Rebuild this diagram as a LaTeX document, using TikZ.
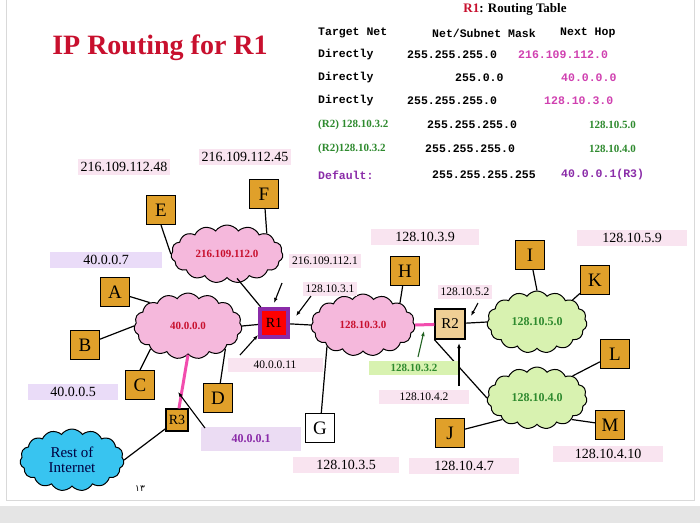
\documentclass[tikz,border=0pt]{standalone}
\usepackage{fontspec}
\setmainfont{Liberation Serif}
\newfontfamily\mono{Liberation Mono}
\newfontfamily\arab{DejaVu Sans}
\usetikzlibrary{shapes.symbols,arrows.meta}
\definecolor{hostc}{HTML}{E0A02A}
\definecolor{pinkc}{HTML}{F5B8DC}
\definecolor{greenc}{HTML}{D8F2B0}
\definecolor{labc}{HTML}{F9E4F0}
\definecolor{lavc}{HTML}{EADCF8}
\definecolor{netred}{HTML}{C8102E}
\definecolor{netgreen}{HTML}{2E8A2E}
\definecolor{mag}{HTML}{D040B0}
\definecolor{purp}{HTML}{8A2BA8}
\definecolor{cyanc}{HTML}{38C4F0}
\begin{document}
\begin{tikzpicture}[x=1pt,y=-1pt,
 host/.style={draw,line width=1.2pt,fill=hostc,minimum size=29pt,inner sep=0pt,font=\fontsize{19}{19}\selectfont},
 cl/.style={cloud,cloud puffs=15,cloud puff arc=110,draw,line width=1pt,aspect=1.8,inner sep=0pt},
 lab/.style={fill=labc,font=\fontsize{14}{14}\selectfont,inner sep=3pt},
 sl/.style={fill=labc,font=\fontsize{11.5}{12}\selectfont,inner sep=3pt},
 ln/.style={line width=1.2pt},
 ar/.style={-{Latex[length=5pt]},line width=1.1pt},
 tb/.style={font=\mono\bfseries\fontsize{11.5}{11.5}\selectfont,anchor=west,inner sep=0pt},
 tg/.style={font=\bfseries\fontsize{11}{11}\selectfont,text=netgreen,anchor=west,inner sep=0pt}]
\useasboundingbox (0,0) rectangle (700,523);
\fill[white] (0,0) rectangle (700,523);
\fill[black!10] (0,506) rectangle (700,523);
\draw[black!15] (6,0) -- (6,500) -- (694,500) -- (694,0);
% title
\node[text=netred,font=\bfseries\fontsize{28}{28}\selectfont] (title) at (160,48) {IP Routing for R1};
% table
\node[font=\bfseries\fontsize{13}{13}\selectfont] (tt) at (515,9) {\textcolor{netred}{R1}: Routing Table};
\node[tb] (h1) at (318,33) {Target Net};
\node[tb] (h2) at (432,33) {Net/Subnet Mask};
\node[tb] (h3) at (560,33) {Next Hop};
\node[tb] (r1a) at (318,55) {Directly};
\node[tb] (r1b) at (407,55) {255.255.255.0};
\node[tb,text=mag] (r1c) at (518,55) {216.109.112.0};
\node[tb] (r2a) at (318,78) {Directly};
\node[tb] (r2b) at (455,78) {255.0.0};
\node[tb,text=mag] (r2c) at (561,78) {40.0.0.0};
\node[tb] (r3a) at (318,101) {Directly};
\node[tb] (r3b) at (407,101) {255.255.255.0};
\node[tb,text=mag] (r3c) at (544,101) {128.10.3.0};
\node[tg] (r4a) at (318,125) {(R2) 128.10.3.2};
\node[tb] (r4b) at (427,125) {255.255.255.0};
\node[tg] (r4c) at (589,125) {128.10.5.0};
\node[tg] (r5a) at (318,149) {(R2)128.10.3.2};
\node[tb] (r5b) at (425,149) {255.255.255.0};
\node[tg] (r5c) at (589,149) {128.10.4.0};
\node[tb,text=purp] (r6a) at (318,175) {Default:};
\node[tb] (r6b) at (432,175) {255.255.255.255};
\node[tb,text=purp] (r6c) at (561,175) {40.0.0.1(R3)};
% clouds
\node[cl,fill=pinkc,minimum width=112pt,minimum height=58pt,text=netred,font=\bfseries\fontsize{11}{11}\selectfont] (n216) at (227,254) {216.109.112.0};
\node[cl,fill=pinkc,minimum width=108pt,minimum height=66pt,text=netred,font=\bfseries\fontsize{11}{11}\selectfont] (n40) at (188,326) {40.0.0.0};
\node[cl,fill=pinkc,minimum width=104pt,minimum height=62pt,text=netred,font=\bfseries\fontsize{11}{11}\selectfont] (n3) at (363,325) {128.10.3.0};
\node[cl,fill=greenc,minimum width=100pt,minimum height=62pt,text=netgreen,font=\bfseries\fontsize{12}{12}\selectfont] (n5) at (537,322) {128.10.5.0};
\node[cl,fill=greenc,minimum width=100pt,minimum height=62pt,text=netgreen,font=\bfseries\fontsize{12}{12}\selectfont] (n4) at (537,398) {128.10.4.0};
\node[cl,fill=cyanc,minimum width=104pt,minimum height=62pt,align=center,font=\fontsize{15}{15}\selectfont,text=black!75!blue] (inet) at (72,460) {Rest of\\Internet};
% hosts
\node[host] (E) at (161,210) {E};
\node[host] (F) at (264,194) {F};
\node[host] (A) at (115,292) {A};
\node[host] (B) at (85,345) {B};
\node[host] (C) at (140,385) {C};
\node[host] (D) at (218,398) {D};
\node[host,minimum size=22pt,font=\fontsize{14}{14}\selectfont] (R3) at (177,420) {R3};
\node[host,fill=red,draw=purp,line width=4pt,minimum size=28pt,font=\fontsize{14}{14}\selectfont] (R1) at (274,323) {R1};
\node[host,fill=white] (G) at (320,428) {G};
\node[host] (H) at (405,271) {H};
\node[host,fill=hostc!50,minimum size=30pt,font=\fontsize{15}{15}\selectfont] (R2) at (450,324) {R2};
\node[host] (I) at (530,255) {I};
\node[host] (K) at (595,280) {K};
\node[host] (L) at (615,354) {L};
\node[host] (J) at (450,433) {J};
\node[host] (M) at (610,425) {M};
% links
\draw[ln] (E.south) -- (n216.west);
\draw[ln] (F) -- (n216.north east);
\draw[ln] (n216.south) ++(10,0) -- (R1);
\draw[ln] (A) -- (n40.north west);
\draw[ln] (B) -- (n40.west);
\draw[ln] (C.north) -- (n40.south west);
\draw[ln] (D) -- (n40.south east);
\draw[line width=3pt,magenta!70] (n40.south) -- (R3);
\draw[ln] (R3) -- (inet.east);
\draw[ln] (n40.east) -- (R1);
\draw[ln] (R1) -- (n3.west);
\draw[ln] (n3.south west) -- (G);
\draw[ln] (H) -- (n3.north east);
\draw[line width=3pt,magenta!70] (n3.east) -- (R2);
\draw[ln] (R2) -- (n5.west);
\draw[ln] (I) -- (n5.north);
\draw[ln] (K) -- (n5.north east);
\draw[ln] (R2.south west) -- (n4.west);
\draw[ln] (L) -- (n4.north east);
\draw[ln] (M) -- (n4.south east);
\draw[ln] (J) -- (n4.south west);
% labels
\node[lab] (l1) at (124,167) {216.109.112.48};
\node[lab] (l2) at (245,157) {216.109.112.45};
\node[lab,fill=lavc,minimum width=112pt] (l3) at (106,260) {40.0.0.7};
\node[sl] (l4) at (325,261) {216.109.112.1};
\node[sl] (l5) at (330,289) {128.10.3.1};
\node[sl,minimum width=95pt] (l6) at (275,365) {40.0.0.11};
\node[lab,fill=lavc,minimum width=90pt] (l7) at (73,392) {40.0.0.5};
\node[fill=lavc!70!purp!40,text=purp,font=\bfseries\fontsize{12}{12}\selectfont,minimum width=100pt,minimum height=24pt] (l8) at (251,439) {40.0.0.1};
\node[lab,minimum width=106pt] (l9) at (346,465) {128.10.3.5};
\node[lab,minimum width=108pt] (l10) at (425,237) {128.10.3.9};
\node[sl] (l11) at (465,292) {128.10.5.2};
\node[fill=greenc,text=netgreen,font=\bfseries\fontsize{11}{11}\selectfont,minimum width=90pt] (l12) at (414,368) {128.10.3.2};
\node[sl,minimum width=90pt] (l13) at (424,397) {128.10.4.2};
\node[lab,minimum width=110pt] (l14) at (632,238) {128.10.5.9};
\node[lab,minimum width=110pt] (l15) at (464,466) {128.10.4.7};
\node[lab,minimum width=110pt] (l16) at (608,454) {128.10.4.10};
\node[font=\arab\fontsize{9}{9}\selectfont] (pg) at (140,489) {١٣};
% arrows
\coordinate (a1s) at (282,283); \coordinate (a1e) at (274,303);
\draw[ar] (a1s) -- (a1e);
\coordinate (a2s) at (311,296); \coordinate (a2e) at (296,316);
\draw[ar] (a2s) -- (a2e);
\coordinate (a3s) at (240,355); \coordinate (a3e) at (258,335);
\draw[ar] (a3s) -- (a3e);
\coordinate (a4s) at (205,428); \coordinate (a4e) at (178,392);
\draw[ar] (a4s) -- (a4e);
\coordinate (a5s) at (478,303); \coordinate (a5e) at (471,316);
\draw[ar] (a5s) -- (a5e);
\coordinate (a6s) at (418,357); \coordinate (a6e) at (424,331);
\draw[ar,draw=netgreen!70!black] (a6s) -- (a6e);
\coordinate (a7s) at (459,386); \coordinate (a7e) at (459,343);
\draw[ar] (a7s) -- (a7e);
\end{tikzpicture}
\end{document}
